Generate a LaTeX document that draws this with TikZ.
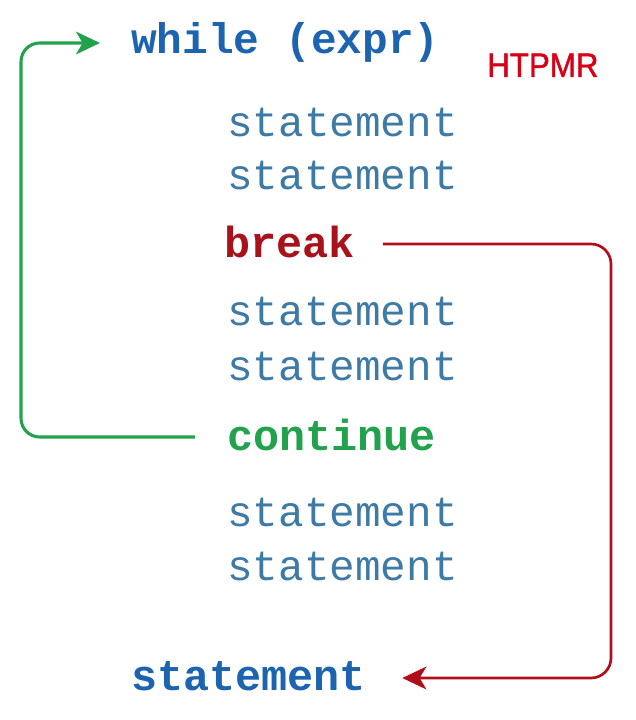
\documentclass[tikz,border=0pt]{standalone}
\usepackage{fontspec}
\setmonofont{Liberation Mono}
\newfontfamily\htfont[FakeBold=1.2]{Liberation Sans}
\usetikzlibrary{arrows.meta,calc}
\definecolor{kwblue}{RGB}{28,100,175}
\definecolor{stblue}{RGB}{62,122,166}
\definecolor{brkred}{RGB}{168,18,26}
\definecolor{contgreen}{RGB}{34,162,76}
\definecolor{htred}{RGB}{214,0,24}
\definecolor{arrred}{RGB}{176,14,24}
\begin{document}
\begin{tikzpicture}[x=0.75pt,y=-0.75pt,
  code/.style={anchor=base west,inner sep=0pt,font=\fontsize{32pt}{36pt}\ttfamily},
  kw/.style={code,font=\fontsize{32.6pt}{36pt}\ttfamily\bfseries},
  stmt/.style={code,text=stblue},
  gline/.style={draw=contgreen,line width=2.3pt,rounded corners=14pt,-{Stealth[length=18pt,width=17pt,inset=5pt]}},
  rline/.style={draw=arrred,line width=2pt,rounded corners=15pt,-{Stealth[length=18pt,width=17pt,inset=5pt]}}]
\useasboundingbox[fill=white] (0,0) rectangle (635,720);
\node[kw,text=kwblue,font=\fontsize{32.1pt}{36pt}\ttfamily\bfseries] (wh) at (131,54) {while (expr)};
\node[anchor=base west,inner sep=0pt,font=\htfont\fontsize{25.5pt}{28pt}\selectfont,text=htred] (ht) at (487,77) {\scalebox{0.92}[1]{HTPMR}};
\node[stmt] (s1) at (227,137) {statement};
\node[stmt] (s2) at (227,190) {statement};
\node[kw,text=brkred] (brk) at (224,257) {break};
\node[stmt] (s3) at (227,325) {statement};
\node[stmt] (s4) at (227,380) {statement};
\node[kw,text=contgreen] (cont) at (227,450) {continue};
\node[stmt] (s5) at (227,526) {statement};
\node[stmt] (s6) at (227,580) {statement};
\node[kw,text=kwblue] (fin) at (131,690) {statement};
% continue -> while
\coordinate (cs) at ($(cont.base west)+(-32,-13)$);
\coordinate (ce) at ($(wh.base west)+(-31,-11)$);
\coordinate (lx) at (21,0);
\draw[gline] (cs) -- (cs -| lx) -- (ce -| lx) -- (ce);
% break -> final statement
\coordinate (bs) at ($(brk.base east)+(28,-13)$);
\coordinate (be) at ($(fin.base east)+(36,-12)$);
\coordinate (rx) at (611,0);
\draw[rline] (bs) -- (bs -| rx) -- (be -| rx) -- (be);
\end{tikzpicture}
\end{document}
